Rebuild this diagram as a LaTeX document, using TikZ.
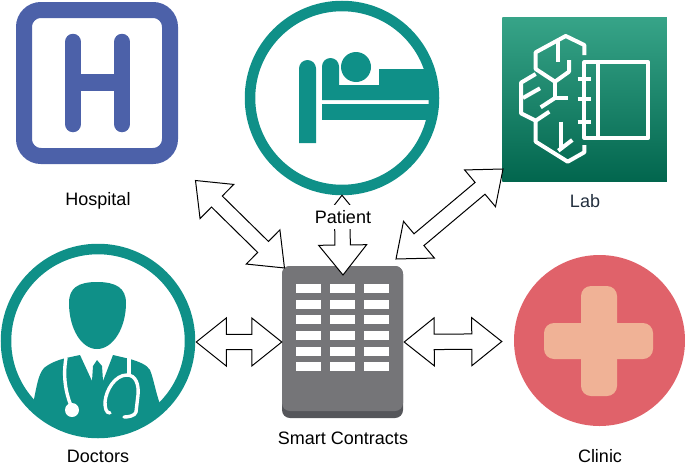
\documentclass[tikz,border=0pt]{standalone}
\usepackage{fontspec}
\setmainfont{Liberation Sans}
\usetikzlibrary{calc}
\definecolor{tealring}{HTML}{0F9088}
\definecolor{hospblue}{HTML}{4C61A9}
\definecolor{labtop}{HTML}{37A488}
\definecolor{labbottom}{HTML}{02664E}
\definecolor{labtext}{HTML}{232F3E}
\definecolor{clinicred}{HTML}{E0626A}
\definecolor{clinicpeach}{HTML}{F0B296}
\definecolor{contractgray}{HTML}{757578}
\definecolor{contractdark}{HTML}{55565A}
\tikzset{
  caption/.style={font=\fontsize{18}{20}\selectfont, text=black, inner sep=1pt},
  ring/.style={circle, draw=tealring, line width=10.5pt, minimum size=184pt, inner sep=0pt},
  contractbar/.style={fill=white, draw=none},
  labline/.style={draw=white, line width=4pt, line join=round},
  steth/.style={white, line width=3.4pt, line cap=round},
  % double block arrow drawn from the start of a to-path to its target
  blockarrow/.style={draw=black, fill=white, line width=1pt, line join=miter,
    to path={
      let \p1=(\tikztostart), \p2=(\tikztotarget), \n1={atan2(\y2-\y1,\x2-\x1)}, \n2={veclen(\x2-\x1,\y2-\y1)} in
      [shift={(\p1)}, rotate=\n1]
      (0pt,0pt) -- (30pt,24pt) -- (30pt,7.7pt) -- (\n2-30pt,7.7pt) -- (\n2-30pt,24pt)
      -- (\n2,0pt) -- (\n2-30pt,-24pt) -- (\n2-30pt,-7.7pt) -- (30pt,-7.7pt) -- (30pt,-24pt) -- cycle}},
}
\begin{document}
\begin{tikzpicture}[x=1pt, y=-1pt]
    \useasboundingbox (0,0) rectangle (685,466);

    % Hospital
    \node (hospital) [draw=hospblue, line width=16pt, rounded corners=17pt, minimum width=146pt, minimum height=146pt, inner sep=0pt] at (97,83) {};
    \draw[hospblue, line width=16.5pt, line cap=round] (73,42) -- (73,124) (122,42) -- (122,124);
    \draw[hospblue, line width=16.5pt] (73,82.5) -- (122,82.5);

    % Patient
    \fill[tealring] (299,68.5) arc (180:360:8.5) -- (316,143) -- (299,143) -- cycle;
    \fill[tealring] (322,66.5) arc (180:360:8.5) -- (339,85) -- (379,85) -- (379,69) -- (432,69) -- (432,100) -- (322,100) -- cycle;
    \fill[tealring] (322,104) rectangle (432,120);
    \fill[tealring] (356,67) circle (15);
    \node (patient) [ring] at (342,98) {};

    % Lab
    \node (lab) [minimum width=164.5pt, minimum height=164pt, inner sep=0pt, top color=labtop, bottom color=labbottom] at (584.7,99) {};
    \draw[labline] (584.3,55) -- (584.3,45) -- (565.7,36) -- (535.7,52.3) -- (535.7,69) -- (555,81.7) -- (569,71.7) -- (569,60);
    \draw[labline] (558.3,40) -- (558.3,61.7);
    \draw[labline] (535.7,74) -- (521,82.7) -- (521,113.3) -- (535.7,120.7) -- (549.3,111.7);
    \draw[labline] (555,81.7) -- (555,98) -- (567.7,98);
    \draw[labline] (555,98) -- (540.7,107.3);
    \draw[labline] (523,98) -- (540,88.3);
    \draw[labline] (535.7,120.7) -- (535.7,141.7) -- (567.7,161.7) -- (584.3,152.3) -- (584.3,145);
    \draw[labline] (561,121.7) -- (561,148.3);
    \draw[labline] (572.3,140) -- (558.3,150.7);
    \draw[labline] (584.3,62.3) rectangle (648.3,137.7);
    \draw[labline] (598.3,62.3) -- (598.3,137.7);
    \foreach \tabY in {79,99.3,121.7}
        \draw[labline] (577.7,\tabY) -- (591,\tabY);

    % Doctors
    \begin{scope}
        \clip (98,341) circle (90);
        \fill[tealring] (33,404) .. controls (37,385) and (38,375) .. (44,368) .. controls (50,363) and (58,360) .. (66,358) -- (80,355) -- (92,381) -- (93,366) -- (97,360) -- (102,366) -- (103,381) -- (113,355) -- (130,359) .. controls (140,362) and (147,365) .. (150,370) .. controls (154,380) and (155,390) .. (160,404) -- (160,440) -- (33,440) -- cycle;
    \end{scope}
    \fill[tealring] (69,303) .. controls (69,288) and (78,282) .. (97,282) .. controls (116,282) and (126,288) .. (126,303) .. controls (126,328) and (113,349) .. (97,349) .. controls (81,349) and (69,328) .. (69,303) -- cycle;
    \draw[steth] (66,358) .. controls (63,375) and (65,392) .. (72,408);
    \fill[white] (72,410) circle (7);
    \draw[steth] (129,358) -- (129,375);
    \draw[steth] (110,413) .. controls (106,413) and (105,408) .. (105,402) .. controls (106,390) and (115,375) .. (127,375) .. controls (136,375) and (139,385) .. (138,395) -- (136,412) .. controls (135,416) and (128,417) .. (124,417);
    \node (doctors) [ring] at (98,341) {};

    % Clinic
    \node (clinic) [circle, fill=clinicred, minimum size=171pt, inner sep=0pt] at (599.5,340.5) {};
    \fill[clinicpeach, rounded corners=10pt] (581,286) rectangle (617,396);
    \fill[clinicpeach, rounded corners=10pt] (544,323) rectangle (653,359);

    % Smart contracts
    \node (smart) [fill=contractdark, rounded corners=8pt, minimum width=121pt, minimum height=152pt, inner sep=0pt] at (342.5,342) {};
    \fill[contractgray, rounded corners=8pt] (282,266) rectangle (403,411);
    \foreach \barY in {284,299.7,315.3,331,346.7,362}
        \foreach \barX in {296,330,364}
            \fill[contractbar] (\barX,\barY) rectangle ++(25.3,9);

    % Arrows between the parties and the contracts
    \coordinate (hospitalend) at (195.5,180.5);
    \coordinate (smarthospital) at (284.5,268);
    \coordinate (labend) at (503,169);
    \coordinate (smartlab) at (396,259);
    \coordinate (smartpatient) at (343,275);
    \draw[blockarrow] (hospitalend) to (smarthospital);
    \draw[blockarrow] (labend) to (smartlab);
    \draw[blockarrow] (patient.south) to (smartpatient);
    \draw[blockarrow] (doctors.east) ++(1,1) to (smart.west);
    \draw[blockarrow] (smart.east) ++(1,0) to ($(clinic.west)+(-12,1)$);

    % Labels
    \node (hospitallabel) [caption] at (98,201) {Hospital};
    \node (patientlabel) [caption, fill=white, minimum height=24pt, minimum width=58pt] at (343,217) {Patient};
    \node (lablabel) [caption, text=labtext] at (585,201.5) {Lab};
    \node (doctorslabel) [caption] at (98,456) {Doctors};
    \node (smartlabel) [caption] at (343,438.5) {Smart Contracts};
    \node (cliniclabel) [caption] at (600,456) {Clinic};
\end{tikzpicture}
\end{document}
